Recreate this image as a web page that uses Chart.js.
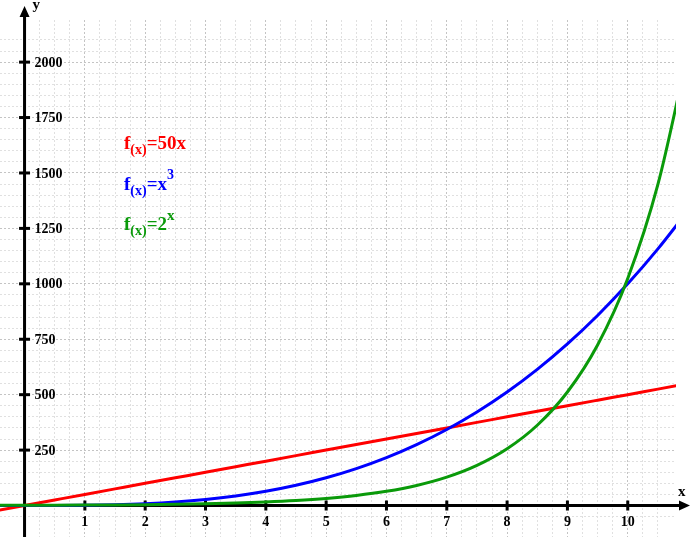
<!DOCTYPE html>
<html>
<head>
<meta charset="utf-8">
<script src="https://cdn.jsdelivr.net/npm/chart.js@4/dist/chart.umd.min.js"></script>
<style>
    body { margin: 0; background: #fff; }
    #wrap { width: 700px; height: 537px; position: relative; }
</style>
</head>
<body>
<div id="wrap"><canvas id="funcChart"></canvas></div>
<script>
// valores de x y de cada funcion
var xValues = [-0.5, 0, 0.5, 1, 1.5, 2, 2.5, 3, 3.5, 4, 4.5, 5, 5.5, 6, 6.5, 7, 7.5, 8, 8.5, 9, 9.5, 10, 10.5, 11];
var linearValues = [-25, 0, 25, 50, 75, 100, 125, 150, 175, 200, 225, 250, 275, 300, 325, 350, 375, 400, 425, 450, 475, 500, 525, 550];
var cubeValues = [-0.125, 0, 0.125, 1, 3.375, 8, 15.625, 27, 42.875, 64, 91.125, 125, 166.375, 216, 274.625, 343, 421.875, 512, 614.125, 729, 857.375, 1000, 1157.625, 1331];
var expValues = [0.707, 1, 1.414, 2, 2.828, 4, 5.657, 8, 11.314, 16, 22.627, 32, 45.255, 64, 90.51, 128, 181.02, 256, 362.04, 512, 724.08, 1024, 1448.15, 2048];
var xTickLabels = ['1', '2', '3', '4', '5', '6', '7', '8', '9', '10'];
var yTickLabels = ['250', '500', '750', '1000', '1250', '1500', '1750', '2000'];

function toPoints(ys) {
    return xValues.map(function (x, i) { return { x: x, y: ys[i] }; });
}

function isMultiple(v, step) {
    var q = v / step;
    return Math.abs(q - Math.round(q)) < 1e-6;
}

var serif = '"Liberation Serif", "DejaVu Serif", serif';

// ejes con flechas, marcas y etiquetas
var axesPlugin = {
    id: 'axes',
    beforeDatasetsDraw: function (chart) {
        var ctx = chart.ctx;
        var xs = chart.scales.x, ys = chart.scales.y;
        var x0 = xs.getPixelForValue(0), y0 = ys.getPixelForValue(0);
        var tipX = xs.right + 14, tipY = ys.top - 14;
        ctx.save();
        ctx.strokeStyle = '#000';
        ctx.fillStyle = '#000';
        ctx.lineWidth = 3;
        ctx.beginPath();
        ctx.moveTo(0, y0); ctx.lineTo(tipX - 9, y0);
        ctx.moveTo(x0, chart.height); ctx.lineTo(x0, tipY + 9);
        ctx.stroke();
        ctx.beginPath();
        ctx.moveTo(tipX, y0); ctx.lineTo(tipX - 11, y0 - 5); ctx.lineTo(tipX - 11, y0 + 5); ctx.closePath();
        ctx.moveTo(x0, tipY); ctx.lineTo(x0 - 5, tipY + 11); ctx.lineTo(x0 + 5, tipY + 11); ctx.closePath();
        ctx.fill();

        ctx.font = 'bold 14px ' + serif;
        ctx.textAlign = 'center';
        ctx.textBaseline = 'middle';
        xTickLabels.forEach(function (t) {
            var px = xs.getPixelForValue(Number(t));
            ctx.beginPath(); ctx.moveTo(px, y0 - 5); ctx.lineTo(px, y0 + 5); ctx.stroke();
            ctx.fillText(t, px, y0 + 17);
        });
        ctx.textAlign = 'left';
        yTickLabels.forEach(function (t) {
            var py = ys.getPixelForValue(Number(t));
            ctx.beginPath(); ctx.moveTo(x0 - 5.5, py); ctx.lineTo(x0 + 5.5, py); ctx.stroke();
            ctx.fillText(t, x0 + 10, py + 1);
        });
        ctx.textBaseline = 'alphabetic';
        ctx.font = 'bold 15px ' + serif;
        ctx.fillText('y', x0 + 8, tipY + 3);
        ctx.fillText('x', tipX - 12, y0 - 10);
        ctx.restore();
    }
};

// textos f(x) con subindice y exponente
function drawFormula(ctx, x, y, color, parts) {
    ctx.fillStyle = color;
    parts.forEach(function (p) {
        ctx.font = 'bold ' + p[1] + 'px ' + serif;
        ctx.fillText(p[0], x, y + p[2]);
        x += ctx.measureText(p[0]).width;
    });
}

var labelPlugin = {
    id: 'formulas',
    afterDraw: function (chart) {
        var ctx = chart.ctx;
        ctx.save();
        ctx.textAlign = 'left';
        ctx.textBaseline = 'alphabetic';
        drawFormula(ctx, 124, 149, '#ff0000', [['f', 19, 0], ['(x)', 14, 5], ['=50x', 19, 0]]);
        drawFormula(ctx, 124, 190, '#0000ff', [['f', 19, 0], ['(x)', 14, 5], ['=x', 19, 0], ['3', 14, -11]]);
        drawFormula(ctx, 124, 230, '#0a9a0a', [['f', 19, 0], ['(x)', 14, 5], ['=2', 19, 0], ['x', 15, -10]]);
        ctx.restore();
    }
};

var gridX = function (c) {
    var v = c.tick.value;
    if (isMultiple(v, 1)) return '#c4c4c4';
    if (isMultiple(v, 0.25)) return '#e0e0e0';
    return 'rgba(0,0,0,0)';
};
var gridY = function (c) {
    var v = c.tick.value;
    if (isMultiple(v, 250)) return '#c4c4c4';
    if (isMultiple(v, 50)) return '#e0e0e0';
    return 'rgba(0,0,0,0)';
};

var chart = new Chart(document.getElementById('funcChart').getContext('2d'), {
    type: 'line',
    data: {
        datasets: [{
            label: 'f(x)=50x',
            data: toPoints(linearValues),
            borderColor: '#ff0000',
            order: 2
        }, {
            label: 'f(x)=x^3',
            data: toPoints(cubeValues),
            borderColor: '#0000ff',
            order: 1
        }, {
            label: 'f(x)=2^x',
            data: toPoints(expValues),
            borderColor: '#0a9a0a',
            order: 0
        }]
    },
    options: {
        responsive: true,
        maintainAspectRatio: false,
        animation: false,
        layout: { padding: { top: 20, right: 24, left: 0, bottom: 0 } },
        elements: {
            line: { borderWidth: 3, cubicInterpolationMode: 'monotone', fill: false },
            point: { radius: 0 }
        },
        plugins: { legend: { display: false }, tooltip: { enabled: false } },
        scales: {
            x: {
                type: 'linear',
                min: -0.407,
                max: 10.8,
                ticks: { display: false, stepSize: 0.25, autoSkip: false },
                grid: { color: gridX, lineWidth: 1, drawTicks: false },
                border: { display: false, dash: [2, 2] }
            },
            y: {
                type: 'linear',
                min: -142,
                max: 2190,
                ticks: { display: false, stepSize: 50, autoSkip: false },
                grid: { color: gridY, lineWidth: 1, drawTicks: false },
                border: { display: false, dash: [2, 2] }
            }
        }
    },
    plugins: [axesPlugin, labelPlugin]
});
</script>
</body>
</html>
